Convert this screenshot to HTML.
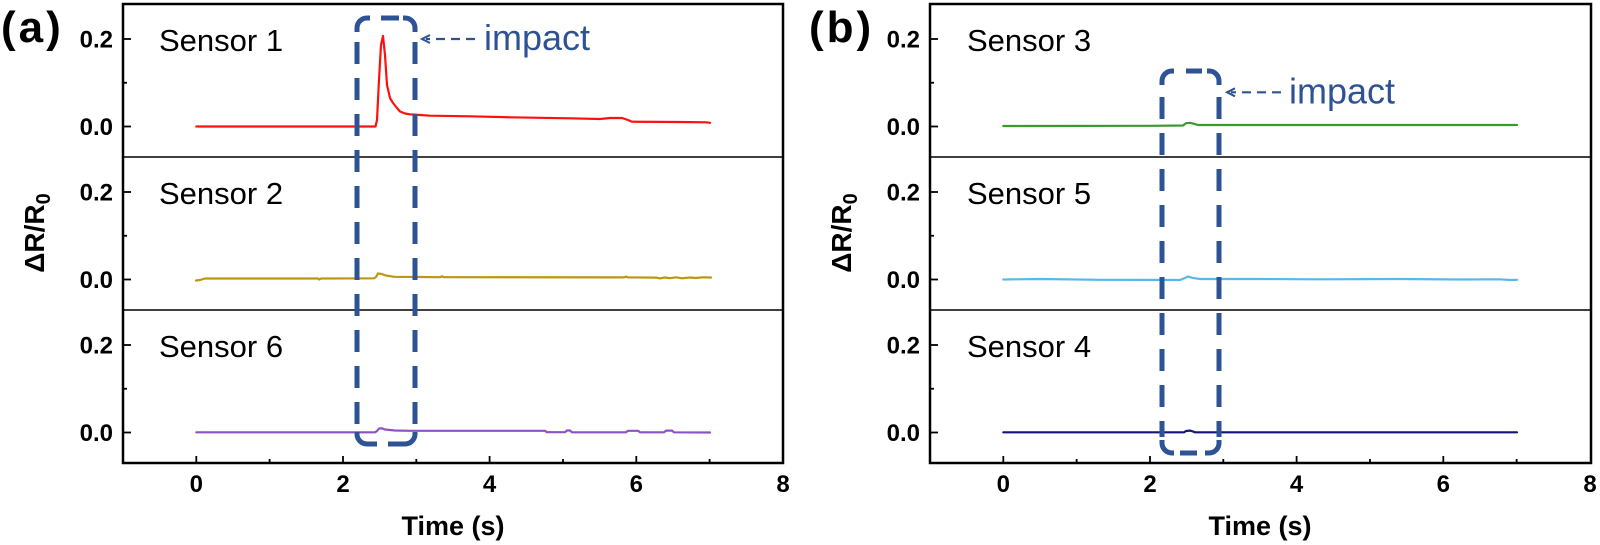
<!DOCTYPE html>
<html>
<head>
<meta charset="utf-8">
<style>
html,body{margin:0;padding:0;background:#fff;}
svg{display:block;}
text{font-family:"Liberation Sans",Arial,sans-serif;}
.tl{font-size:24px;font-weight:bold;fill:#000;}
.sn{font-size:31px;fill:#000;}
.imp{font-size:36px;fill:#2e5395;}
.bx{fill:none;stroke:#2e5395;stroke-width:5;stroke-linecap:butt;}
</style>
</head>
<body>
<svg width="1600" height="545" viewBox="0 0 1600 545" xmlns="http://www.w3.org/2000/svg">
<rect x="0" y="0" width="1600" height="545" fill="#fff"/>

<!-- ================= LEFT PANEL ================= -->
<g fill="none" stroke-linejoin="round" stroke-linecap="round" stroke-width="2.2">
  <path stroke="#ff1010" d="M196.3,126.5 L375.5,126.5 L377,120 L379,80 L381,45 L383,36 L385,55 L387,85 L390,98 L393,103 L397,108 L400,111.5 L405,113.5 L410,114.3 L420,115 L430,115.7 L470,116.3 L510,117.3 L570,118.3 L600,119 L610,118 L622,118 L628,120 L632,121.7 L680,122 L706,122.3 L710,122.8"/>
  <path stroke="#bb970d" d="M196,280.5 L200,280 L205,278.5 L318,278.5 L319,279.5 L321,278.5 L374,278.3 L376,277 L378,273.5 L381,273.8 L386,275.5 L394,276.8 L420,277 L440,277.2 L442,276.3 L444,277.2 L624,277.4 L626,276.6 L628,277.4 L656,277.6 L660,278.4 L665,277.5 L670,278.2 L676,277.3 L682,278.3 L690,277.5 L696,278 L702,277.3 L711,277.5"/>
  <path stroke="#8d52c4" d="M196.3,432.3 L375,432.3 L377,431 L379,428.5 L382,428.3 L385,429.5 L390,430 L395,430.5 L410,430.8 L545,430.8 L547,432.2 L565,432.2 L567,430.5 L570,430.5 L572,432.3 L626,432.3 L628,430.8 L638,430.8 L640,432.3 L664,432.3 L666,430.6 L672,430.6 L674,432.3 L710,432.5"/>
</g>

<rect x="123" y="4" width="660" height="459" fill="none" stroke="#000" stroke-width="2.5"/>
<line x1="123" y1="157" x2="783" y2="157" stroke="#000" stroke-width="1.6"/>
<line x1="123" y1="310" x2="783" y2="310" stroke="#000" stroke-width="1.6"/>

<g stroke="#000" stroke-width="1.8">
  <line x1="123" y1="39" x2="131" y2="39"/><line x1="123" y1="82.75" x2="127" y2="82.75"/><line x1="123" y1="126.5" x2="131" y2="126.5"/>
  <line x1="123" y1="192" x2="131" y2="192"/><line x1="123" y1="235.75" x2="127" y2="235.75"/><line x1="123" y1="279.5" x2="131" y2="279.5"/>
  <line x1="123" y1="345" x2="131" y2="345"/><line x1="123" y1="388.75" x2="127" y2="388.75"/><line x1="123" y1="432.5" x2="131" y2="432.5"/>
  <line x1="196.3" y1="463" x2="196.3" y2="456"/><line x1="269.6" y1="463" x2="269.6" y2="459"/>
  <line x1="343" y1="463" x2="343" y2="456"/><line x1="416.3" y1="463" x2="416.3" y2="459"/>
  <line x1="489.6" y1="463" x2="489.6" y2="456"/><line x1="563" y1="463" x2="563" y2="459"/>
  <line x1="636.3" y1="463" x2="636.3" y2="456"/><line x1="709.6" y1="463" x2="709.6" y2="459"/>
</g>

<g class="tl" text-anchor="end">
  <text x="113" y="47.5">0.2</text><text x="113" y="135">0.0</text>
  <text x="113" y="200.5">0.2</text><text x="113" y="288">0.0</text>
  <text x="113" y="353.5">0.2</text><text x="113" y="441">0.0</text>
</g>
<g class="tl" text-anchor="middle">
  <text x="196.3" y="492">0</text><text x="343" y="492">2</text><text x="489.6" y="492">4</text><text x="636.3" y="492">6</text><text x="783" y="492">8</text>
</g>

<text class="sn" x="159" y="51">Sensor 1</text>
<text class="sn" x="159" y="204">Sensor 2</text>
<text class="sn" x="159" y="357">Sensor 6</text>

<text x="453" y="535" text-anchor="middle" font-size="27" font-weight="bold">Time (s)</text>
<text transform="translate(44,233) rotate(-90)" text-anchor="middle" font-size="28" font-weight="bold">ΔR/R<tspan font-size="20" dy="6">0</tspan></text>

<text x="1" y="42" font-size="44" font-weight="bold" letter-spacing="3">(a)</text>

<!-- impact box left (x 357-415, y 18-444) -->
<g class="bx">
  <path d="M357,32 L357,28 A10,10 0 0 1 367,18 L370,18"/>
  <path d="M381,18 L399,18"/>
  <path d="M403,18 L405,18 A10,10 0 0 1 415,28 L415,32"/>
  <line x1="357" y1="42" x2="357" y2="428" stroke-dasharray="22 14"/>
  <line x1="415" y1="42" x2="415" y2="428" stroke-dasharray="22 14"/>
  <path d="M357,432 L357,434 A10,10 0 0 0 367,444 L377,444"/>
  <path d="M388,444 L405,444 A10,10 0 0 0 415,434 L415,432"/>
</g>
<line x1="475" y1="39" x2="426" y2="39" stroke="#2e5395" stroke-width="2.2" stroke-dasharray="9 6"/>
<polyline points="430,35 422,39 430,43" fill="none" stroke="#2e5395" stroke-width="2"/>
<text class="imp" x="484" y="50">impact</text>

<!-- ================= RIGHT PANEL ================= -->
<g fill="none" stroke-linejoin="round" stroke-linecap="round" stroke-width="2.2">
  <path stroke="#3a9a2e" d="M1003.3,126 L1150,125.8 L1183,125.5 L1186,123.2 L1190,122.8 L1194,123.8 L1198,125 L1517,125"/>
  <path stroke="#58b8ec" d="M1003.3,279.5 L1040,279 L1100,279.8 L1180,280 L1185,278 L1188,276.5 L1192,277.8 L1200,279 L1260,279 L1320,279.3 L1400,279 L1460,279.5 L1500,279.3 L1510,280 L1517,279.8"/>
  <path stroke="#14147a" d="M1003.3,432.3 L1184,432.3 L1186,431 L1190,430.6 L1193,431.5 L1195,432.3 L1517,432.3"/>
</g>

<rect x="930" y="4" width="661" height="459" fill="none" stroke="#000" stroke-width="2.5"/>
<line x1="930" y1="157" x2="1591" y2="157" stroke="#000" stroke-width="1.6"/>
<line x1="930" y1="310" x2="1591" y2="310" stroke="#000" stroke-width="1.6"/>

<g stroke="#000" stroke-width="1.8">
  <line x1="930" y1="39" x2="938" y2="39"/><line x1="930" y1="82.75" x2="934" y2="82.75"/><line x1="930" y1="126.5" x2="938" y2="126.5"/>
  <line x1="930" y1="192" x2="938" y2="192"/><line x1="930" y1="235.75" x2="934" y2="235.75"/><line x1="930" y1="279.5" x2="938" y2="279.5"/>
  <line x1="930" y1="345" x2="938" y2="345"/><line x1="930" y1="388.75" x2="934" y2="388.75"/><line x1="930" y1="432.5" x2="938" y2="432.5"/>
  <line x1="1003.3" y1="463" x2="1003.3" y2="456"/><line x1="1076.6" y1="463" x2="1076.6" y2="459"/>
  <line x1="1150" y1="463" x2="1150" y2="456"/><line x1="1223.3" y1="463" x2="1223.3" y2="459"/>
  <line x1="1296.6" y1="463" x2="1296.6" y2="456"/><line x1="1370" y1="463" x2="1370" y2="459"/>
  <line x1="1443.3" y1="463" x2="1443.3" y2="456"/><line x1="1516.6" y1="463" x2="1516.6" y2="459"/>
</g>

<g class="tl" text-anchor="end">
  <text x="920" y="47.5">0.2</text><text x="920" y="135">0.0</text>
  <text x="920" y="200.5">0.2</text><text x="920" y="288">0.0</text>
  <text x="920" y="353.5">0.2</text><text x="920" y="441">0.0</text>
</g>
<g class="tl" text-anchor="middle">
  <text x="1003.3" y="492">0</text><text x="1150" y="492">2</text><text x="1296.6" y="492">4</text><text x="1443.3" y="492">6</text><text x="1590" y="492">8</text>
</g>

<text class="sn" x="967" y="51">Sensor 3</text>
<text class="sn" x="967" y="204">Sensor 5</text>
<text class="sn" x="967" y="357">Sensor 4</text>

<text x="1260" y="535" text-anchor="middle" font-size="27" font-weight="bold">Time (s)</text>
<text transform="translate(851,233) rotate(-90)" text-anchor="middle" font-size="28" font-weight="bold">ΔR/R<tspan font-size="20" dy="6">0</tspan></text>

<text x="809" y="42" font-size="44" font-weight="bold" letter-spacing="3">(b)</text>

<!-- impact box right (x 1162-1219, y 71-453) -->
<g class="bx">
  <path d="M1162,85 L1162,81 A10,10 0 0 1 1172,71 L1174,71"/>
  <path d="M1186,71 L1202,71"/>
  <path d="M1207,71 L1209,71 A10,10 0 0 1 1219,81 L1219,85"/>
  <line x1="1162" y1="97" x2="1162" y2="437" stroke-dasharray="22 14"/>
  <line x1="1219" y1="97" x2="1219" y2="437" stroke-dasharray="22 14"/>
  <path d="M1162,440 L1162,443 A10,10 0 0 0 1172,453 L1174,453"/>
  <path d="M1180,453 L1197,453"/>
  <path d="M1205,453 L1209,453 A10,10 0 0 0 1219,443 L1219,440"/>
</g>
<line x1="1281" y1="92.3" x2="1231" y2="92.3" stroke="#2e5395" stroke-width="2.2" stroke-dasharray="9 6"/>
<polyline points="1235,88.3 1227,92.3 1235,96.3" fill="none" stroke="#2e5395" stroke-width="2"/>
<text class="imp" x="1289" y="103.3">impact</text>
</svg>
</body>
</html>
